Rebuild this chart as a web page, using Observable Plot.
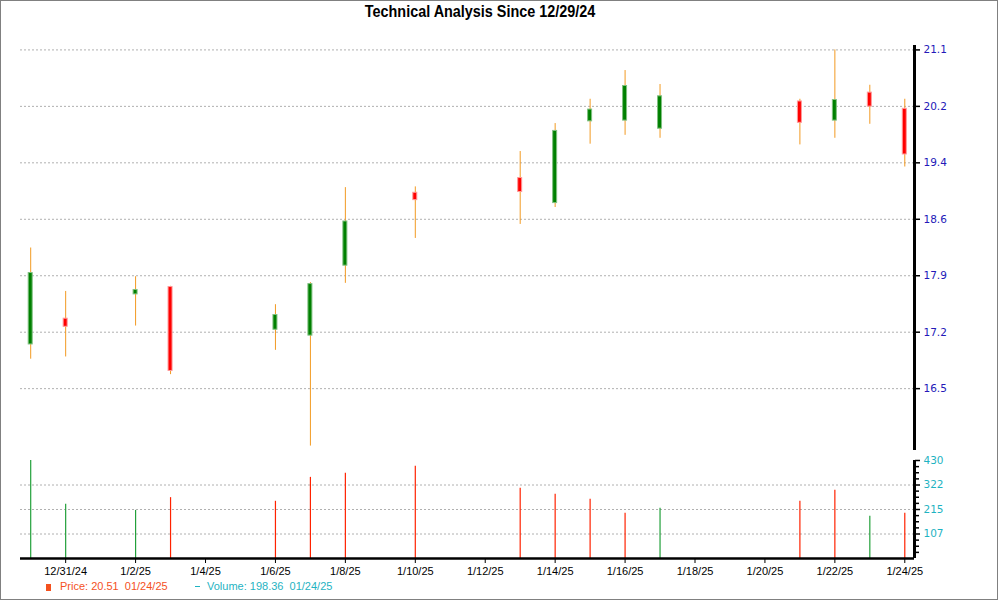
<!DOCTYPE html>
<html>
<head>
<meta charset="utf-8">
<script src="https://cdn.jsdelivr.net/npm/d3@7"></script>
<script src="https://cdn.jsdelivr.net/npm/@observablehq/plot@0.6"></script>
<style>
html, body { margin: 0; padding: 0; background: #fff; }
#wrap { position: relative; width: 1000px; height: 600px; overflow: hidden; background: #fff; font-family: "Liberation Sans", Arial, sans-serif; }
#border { position: absolute; left: 0; top: 0; width: 998px; height: 600px; box-sizing: border-box; border: 1px solid #808080; pointer-events: none; }
#title { position: absolute; left: 0; top: 4px; width: 960px; text-align: center; font: bold 16px/16px "Liberation Sans", Arial, sans-serif; color: #000; }
#title span { display: inline-block; transform: scaleX(0.9); }
#price { position: absolute; left: 0; top: 0; }
#volume { position: absolute; left: 0; top: 455px; }
.leg { position: absolute; top: 581px; font: 11px/11px "Liberation Sans", Arial, sans-serif; white-space: pre; }
#legIcon { position: absolute; left: 46px; top: 584px; width: 5px; height: 7px; background: #f4511e; }
#legDash { position: absolute; left: 195px; top: 586px; width: 5px; height: 1px; background: #1fb3c2; }
svg { overflow: visible; }
</style>
</head>
<body>
<div id="wrap">
  <div id="title"><span>Technical Analysis Since 12/29/24</span></div>
  <div id="price"></div>
  <div id="volume"></div>
  <div id="legIcon"></div>
  <div class="leg" id="legPrice" style="left:60px;color:#f4511e;"></div>
  <div id="legDash"></div>
  <div class="leg" id="legVol" style="left:207px;color:#1fb3c2;"></div>
  <div id="border"></div>
</div>
<script>
// ---- data ----
const dates  = ["2024-12-30","2024-12-31","2025-01-02","2025-01-03","2025-01-06","2025-01-07","2025-01-08","2025-01-10","2025-01-13","2025-01-14","2025-01-15","2025-01-16","2025-01-17","2025-01-21","2025-01-22","2025-01-23","2025-01-24"];
const opens  = [17.10, 17.45, 17.78, 17.88, 17.30, 17.22, 18.17, 19.16, 19.36, 19.02, 20.13, 20.14, 20.03, 20.40, 20.14, 20.52, 20.30];
const closes = [18.07, 17.34, 17.84, 16.74, 17.50, 17.92, 18.77, 19.06, 19.17, 20.00, 20.29, 20.61, 20.47, 20.11, 20.42, 20.33, 19.68];
const highs  = [18.41, 17.82, 18.02, 17.89, 17.64, 17.94, 19.23, 19.24, 19.72, 20.10, 20.43, 20.82, 20.63, 20.43, 21.10, 20.62, 20.43];
const lows   = [16.90, 16.93, 17.35, 16.69, 17.02, 15.72, 17.93, 18.54, 18.73, 18.96, 19.82, 19.94, 19.90, 19.81, 19.90, 20.09, 19.51];
const volumes = [430, 238, 211, 267, 251, 356, 374, 405, 308, 282, 260, 198, 220, 251, 299, 185, 198.36];
const volumeDirection = ["up","up","up","down","down","down","down","down","down","down","down","down","up","down","down","up","down"];

const priceTickLabels = ["16.5","17.2","17.9","18.6","19.4","20.2","21.1"];
const volumeTickLabels = ["107","215","322","430"];
const xTickLabels = ["12/31/24","1/2/25","1/4/25","1/6/25","1/8/25","1/10/25","1/12/25","1/14/25","1/16/25","1/18/25","1/20/25","1/22/25","1/24/25"];

const legendPrice = "Price: 20.51  01/24/25";
const legendVolume = "Volume: 198.36  01/24/25";

// ---- derived ----
const parse = d3.utcParse("%Y-%m-%d");
const candles = dates.map((d, i) => ({
  date: parse(d), open: opens[i], close: closes[i], high: highs[i], low: lows[i],
  volume: volumes[i], dir: volumeDirection[i]
}));

const GREEN = "#008000", GREEN_EDGE = "#80c080", RED = "#ff0000", RED_EDGE = "#ff9a9a";
const VOL_GREEN = "#22a03a", VOL_RED = "#ff2200";

const xDomain = [new Date(Date.UTC(2024, 11, 29, 17)), new Date(Date.UTC(2025, 0, 24, 6, 40))];
const priceDomain = [15.66, 21.16];
const volDomain = [0, 430];
const halfBody = 2 / 35 * 864e5; // ~2px half width in time units

const pFirst = +priceTickLabels[0], pLast = +priceTickLabels[priceTickLabels.length - 1];
const pStep = (pLast - pFirst) / (priceTickLabels.length - 1);
const priceTickValues = priceTickLabels.map((_, i) => pFirst + i * pStep);
const priceFmt = v => priceTickLabels[Math.round((v - pFirst) / pStep)];

const vMax = +volumeTickLabels[volumeTickLabels.length - 1];
const vStep = vMax / volumeTickLabels.length;
const volumeTickValues = volumeTickLabels.map((_, i) => (i + 1) * vStep);
const volFmt = v => volumeTickLabels[Math.round(v / vStep) - 1];
const volMinor = d3.range(0, 17).map(i => i * vStep / 4).filter((v, i) => i % 4 !== 0);

const xTickDates = xTickLabels.map(s => { const [m, d, y] = s.split("/").map(Number); return new Date(Date.UTC(2000 + y, m - 1, d)); });
const xFmt = d => xTickLabels[xTickDates.findIndex(t => +t === +d)];

// ---- price panel ----
const pricePlot = Plot.plot({
  width: 1000, height: 455,
  marginLeft: 20, marginRight: 86, marginTop: 45, marginBottom: 5,
  x: {type: "utc", domain: xDomain, axis: null},
  y: {domain: priceDomain, axis: null},
  style: {background: "transparent", fontFamily: "DejaVu Sans", overflow: "visible"},
  marks: [
    Plot.gridY(priceTickValues, {stroke: "#b0b0b0", strokeOpacity: 1, strokeDasharray: "2,2"}),
    Plot.ruleX(candles, {x: "date", y1: "low", y2: "high", stroke: "#f29a22", strokeWidth: 1}),
    Plot.rect(candles, {
      x1: d => new Date(+d.date - halfBody), x2: d => new Date(+d.date + halfBody),
      y1: "open", y2: "close",
      fill: d => d.close >= d.open ? GREEN : RED,
      stroke: d => d.close >= d.open ? GREEN_EDGE : RED_EDGE,
      strokeWidth: 1
    }),
    Plot.ruleX([xDomain[1]], {y1: priceDomain[0], y2: priceDomain[1], stroke: "black", strokeWidth: 3}),
    Plot.axisY(priceTickValues, {anchor: "right", tickSize: 5, tickPadding: 4, tickFormat: priceFmt,
      stroke: "black", strokeWidth: 1.5, fill: "#2419b8", fontSize: 10.5, fontFamily: "DejaVu Sans", label: null})
  ]
});
document.getElementById("price").appendChild(pricePlot);

// ---- volume panel ----
const volumePlot = Plot.plot({
  width: 1000, height: 145,
  marginLeft: 20, marginRight: 86, marginTop: 5, marginBottom: 42,
  x: {type: "utc", domain: xDomain, axis: null},
  y: {domain: volDomain, axis: null},
  style: {background: "transparent", fontFamily: "DejaVu Sans", overflow: "visible"},
  marks: [
    Plot.gridY(volumeTickValues.slice(0, -1), {stroke: "#b0b0b0", strokeOpacity: 1, strokeDasharray: "2,2"}),
    Plot.ruleX(candles, {x: "date", y1: 0, y2: "volume", stroke: d => d.dir === "up" ? VOL_GREEN : VOL_RED, strokeWidth: 1.2}),
    Plot.ruleY([0], {stroke: "black", strokeWidth: 2.5}),
    Plot.ruleX([xDomain[1]], {y1: volDomain[0], y2: volDomain[1], stroke: "black", strokeWidth: 3}),
    Plot.axisY(volMinor, {anchor: "right", tickSize: 4, fill: "none", stroke: "black", strokeWidth: 1.5, label: null}),
    Plot.axisY(volumeTickValues, {anchor: "right", tickSize: 5, tickPadding: 4, tickFormat: volFmt,
      stroke: "black", strokeWidth: 1.5, fill: "#1fb3c2", fontSize: 10.5, fontFamily: "DejaVu Sans", label: null}),
    Plot.axisX(xTickDates, {anchor: "bottom", tickSize: 5, tickPadding: 4, tickFormat: xFmt,
      stroke: "black", fill: "black", fontSize: 11, fontFamily: "Liberation Sans", label: null})
  ]
});
document.getElementById("volume").appendChild(volumePlot);

document.getElementById("legPrice").textContent = legendPrice;
document.getElementById("legVol").textContent = legendVolume;
</script>
</body>
</html>
